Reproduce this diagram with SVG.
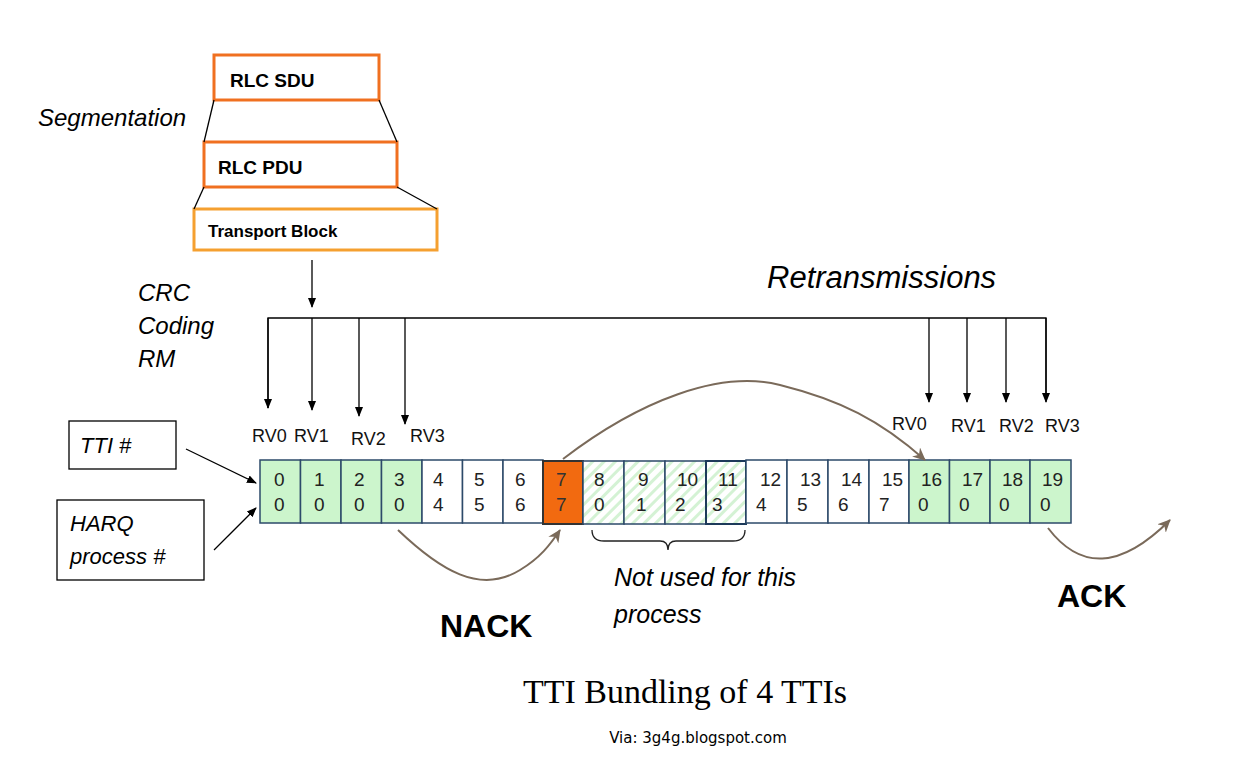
<svg xmlns="http://www.w3.org/2000/svg" width="1236" height="776" viewBox="0 0 1236 776">
<style>
.s{font-family:"Liberation Sans",Arial,sans-serif}
.it{font-family:"Liberation Sans",Arial,sans-serif;font-style:italic;font-size:24px;fill:#000}
.rv{font-family:"Liberation Sans",Arial,sans-serif;font-size:18px;fill:#111}
.n{font-family:"Liberation Sans",Arial,sans-serif;font-size:19px;fill:#222}
.g{fill:#ccf5cc;stroke:#2d4a6a;stroke-width:1.5}
.w{fill:#fff;stroke:#2d4a6a;stroke-width:1.5}
.l{stroke:#000;stroke-width:1.3;fill:none}
.c{stroke:#7a6a5a;stroke-width:2;fill:none}
</style>
<defs>
<marker id="a" markerWidth="10" markerHeight="10" refX="9" refY="5" orient="auto" markerUnits="userSpaceOnUse"><path d="M0,1 L10,5 L0,9 Z" fill="#000"/></marker>
<marker id="b" markerWidth="14" markerHeight="12" refX="12" refY="6" orient="auto" markerUnits="userSpaceOnUse"><path d="M0,0 L13,6 L0,12 L4,6 Z" fill="#7a6a5a"/></marker>
<pattern id="h" width="8" height="8" patternUnits="userSpaceOnUse" patternTransform="rotate(45)"><rect width="8" height="8" fill="#fff"/><rect width="3" height="8" fill="#d4f2d4"/></pattern>
</defs>
<rect width="1236" height="776" fill="#fff"/>
<g id="sdu"><rect x="214" y="55" width="165" height="45" fill="#fff" stroke="#f07020" stroke-width="3"/><text x="230" y="87" class="s" font-size="19" font-weight="bold">RLC SDU</text></g>
<g id="pdu"><rect x="204" y="142" width="193" height="45" fill="#fff" stroke="#f07020" stroke-width="3"/><text x="218" y="174" class="s" font-size="19" font-weight="bold">RLC PDU</text></g>
<g id="tb"><rect x="194" y="209" width="243" height="41" fill="#fff" stroke="#f5a030" stroke-width="3"/><text x="208" y="237" class="s" font-size="17" font-weight="bold">Transport Block</text></g>
<g id="tti"><rect x="69" y="421" width="107" height="48" fill="#fff" stroke="#000" stroke-width="1.3"/><text x="80" y="453" class="it" style="font-size:22px">TTI #</text></g>
<g id="harq"><rect x="57" y="500" width="147" height="80" fill="#fff" stroke="#000" stroke-width="1.3"/><text x="70" y="531" class="it" style="font-size:22px">HARQ</text><text x="70" y="564" class="it" style="font-size:22px">process #</text></g>
<g id="labels">
<text x="38" y="126" class="it">Segmentation</text>
<text x="138" y="301" class="it">CRC</text><text x="138" y="334" class="it">Coding</text><text x="138" y="367" class="it">RM</text>
<text x="767" y="288" class="it" style="font-size:31px">Retransmissions</text>
<text x="614" y="586" class="it" style="font-size:25px">Not used for this</text><text x="614" y="623" class="it" style="font-size:25px">process</text>
<text x="440" y="637" class="s" font-size="32" font-weight="bold">NACK</text>
<text x="1057" y="607" class="s" font-size="32" font-weight="bold">ACK</text>
<text x="685" y="703" font-family="Liberation Serif,serif" font-size="34" text-anchor="middle">TTI Bundling of 4 TTIs</text>
<text x="698" y="743" font-family="DejaVu Sans,sans-serif" font-size="15" text-anchor="middle">Via: 3g4g.blogspot.com</text>
<text x="252" y="442" class="rv">RV0</text><text x="294" y="442" class="rv">RV1</text><text x="351" y="445" class="rv">RV2</text><text x="410" y="442" class="rv">RV3</text>
<text x="892" y="430" class="rv">RV0</text><text x="951" y="432" class="rv">RV1</text><text x="999" y="432" class="rv">RV2</text><text x="1045" y="432" class="rv">RV3</text>
</g>
<g id="cells">
<rect x="260" y="460" width="40.5" height="63" class="g"/><rect x="300.5" y="460" width="40.5" height="63" class="g"/><rect x="341" y="460" width="40.5" height="63" class="g"/><rect x="381.5" y="460" width="40.5" height="63" class="g"/>
<rect x="422" y="460" width="40.5" height="63" class="w"/><rect x="462.5" y="460" width="40.5" height="63" class="w"/><rect x="503" y="460" width="40" height="63" class="w"/>
<rect x="543" y="461" width="40" height="63" fill="#f26a10" stroke="#333" stroke-width="2"/>
<rect x="583" y="461" width="41" height="63" fill="url(#h)" stroke="#2d4a6a" stroke-width="1.5"/><rect x="624" y="461" width="41" height="63" fill="url(#h)" stroke="#2d4a6a" stroke-width="1.5"/><rect x="665" y="461" width="41" height="63" fill="url(#h)" stroke="#2d4a6a" stroke-width="1.5"/><rect x="706" y="461" width="40" height="63" fill="url(#h)" stroke="#1d3a5a" stroke-width="2"/>
<rect x="746" y="460" width="41" height="63" class="w"/><rect x="787" y="460" width="41" height="63" class="w"/><rect x="828" y="460" width="41" height="63" class="w"/><rect x="869" y="460" width="40" height="63" class="w"/>
<rect x="909" y="460" width="40.5" height="63" class="g"/><rect x="949.5" y="460" width="40.5" height="63" class="g"/><rect x="990" y="460" width="40" height="63" class="g"/><rect x="1030" y="460" width="41" height="63" class="g"/>
<g class="n">
<text x="274" y="486">0</text><text x="274" y="511">0</text><text x="314" y="486">1</text><text x="314" y="511">0</text><text x="354" y="486">2</text><text x="354" y="511">0</text><text x="394" y="486">3</text><text x="394" y="511">0</text>
<text x="433" y="486">4</text><text x="433" y="511">4</text><text x="474" y="486">5</text><text x="474" y="511">5</text><text x="515" y="486">6</text><text x="515" y="511">6</text>
<text x="556" y="486" fill="#333">7</text><text x="556" y="511" fill="#333">7</text>
<text x="594" y="486">8</text><text x="594" y="511">0</text><text x="638" y="486">9</text><text x="636" y="511">1</text><text x="677" y="486">10</text><text x="675" y="511">2</text><text x="718" y="486">11</text><text x="712" y="511">3</text>
<text x="760" y="486">12</text><text x="756" y="511">4</text><text x="800" y="486">13</text><text x="797" y="511">5</text><text x="841" y="486">14</text><text x="838" y="511">6</text><text x="882" y="486">15</text><text x="879" y="511">7</text>
<text x="921" y="486">16</text><text x="918" y="511">0</text><text x="962" y="486">17</text><text x="959" y="511">0</text><text x="1002" y="486">18</text><text x="999" y="511">0</text><text x="1042" y="486">19</text><text x="1040" y="511">0</text>
</g>
</g>
<g id="connectors">
<line x1="214" y1="100" x2="204" y2="142" class="l"/><line x1="379" y1="100" x2="397" y2="142" class="l"/>
<line x1="204" y1="187" x2="194" y2="209" class="l"/><line x1="397" y1="187" x2="437" y2="209" class="l"/>
<line x1="312" y1="260" x2="312" y2="307" class="l" marker-end="url(#a)"/>
<path d="M268,408 V318 H1046 V400" class="l"/>
<line x1="268" y1="318" x2="268" y2="408" class="l" marker-end="url(#a)"/>
<line x1="312" y1="318" x2="312" y2="410" class="l" marker-end="url(#a)"/>
<line x1="359" y1="318" x2="359" y2="416" class="l" marker-end="url(#a)"/>
<line x1="405" y1="318" x2="405" y2="424" class="l" marker-end="url(#a)"/>
<line x1="929" y1="318" x2="929" y2="402" class="l" marker-end="url(#a)"/>
<line x1="967" y1="318" x2="967" y2="402" class="l" marker-end="url(#a)"/>
<line x1="1006" y1="318" x2="1006" y2="402" class="l" marker-end="url(#a)"/>
<line x1="1046" y1="318" x2="1046" y2="402" class="l" marker-end="url(#a)"/>
<line x1="186" y1="449" x2="256" y2="483" class="l" marker-end="url(#a)"/>
<line x1="214" y1="550" x2="256" y2="508" class="l" marker-end="url(#a)"/>
<path d="M398,530 C440,570 480,595 520,570 C540,558 550,545 560,530" class="c" marker-end="url(#b)"/>
<path d="M563,459 C640,400 720,370 780,385 C840,400 880,420 925,460" class="c" marker-end="url(#b)"/>
<path d="M1048,528 C1080,570 1120,570 1170,520" class="c" marker-end="url(#b)"/>
<path d="M592,530 Q592,541 604,541 H660 Q668,541 668,550 Q668,541 676,541 H733 Q745,541 745,530" fill="none" stroke="#222" stroke-width="1.3"/>
</g>
</svg>
